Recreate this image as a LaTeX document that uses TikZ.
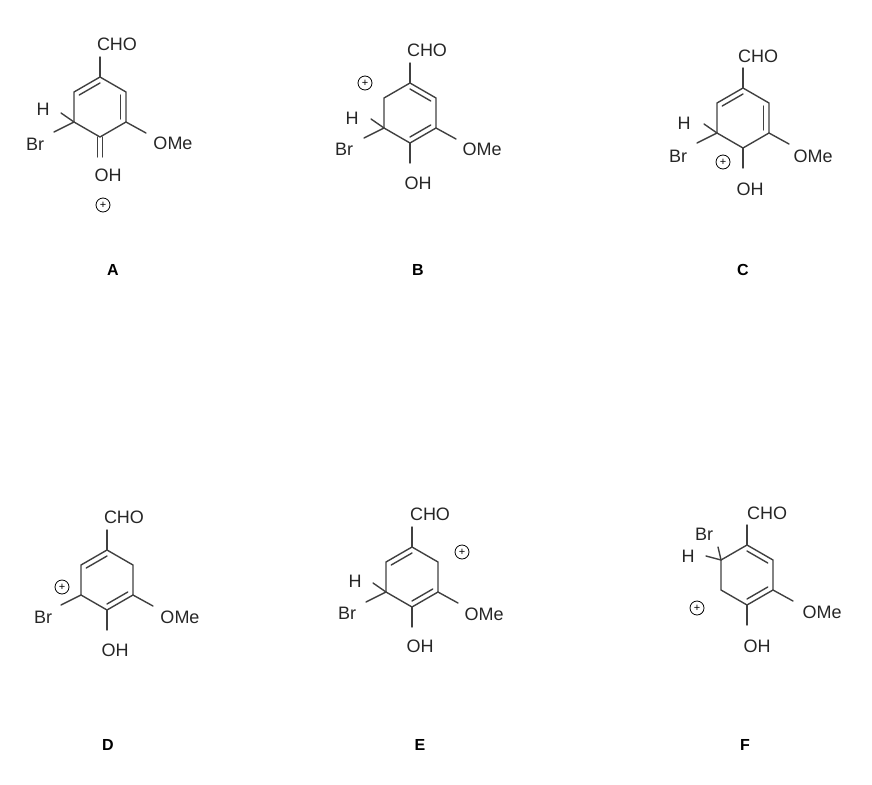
\documentclass[tikz,border=0pt]{standalone}
\usepackage{fontspec}
\setmainfont{Liberation Sans}
\usetikzlibrary{calc}
\newcommand\molring[3]{% name, cx, cy
  \coordinate (#1c) at (#2,#3);
  \foreach \i/\a in {1/-90,2/-30,3/30,4/90,5/150,6/210}{\coordinate (#1\i) at ($(#1c)+(\a:30)$);}
  \draw[bond] (#11)--(#12)--(#13)--(#14)--(#15)--(#16)--cycle;}
\newcommand\dbl[3]{\draw[bond] ($(#1c)!0.8!(#1#2)$)--($(#1c)!0.8!(#1#3)$);}
\tikzset{bond/.style={line width=1.4pt,line cap=round,line join=round,black!75},
  lab/.style={font=\fontsize{18}{18}\selectfont,inner sep=0pt,text=black!85},
  ttl/.style={font=\bfseries\fontsize{16}{16}\selectfont,inner sep=0pt},
  plus/.style={circle,draw,line width=0.8pt,minimum size=14pt,inner sep=0pt,font=\fontsize{11}{11}\selectfont}}
\begin{document}
\begin{tikzpicture}[x=1pt,y=-1pt]
\useasboundingbox (0,0) rectangle (872,784);
% A
\molring{A}{100}{107}
\dbl{A}{1}{6}\dbl{A}{2}{3}
\draw[bond] (A1)--++(0,-20); \node[lab] at (117,44) {CHO};
\draw[bond] ([xshift=-2.5pt]A4)--++(0,20) ([xshift=2.5pt]A4)--++(0,20); \node[lab] at (108,175) {OH};
\draw[bond] (A3)--++(20,11); \node[lab] at (173,143) {OMe};
\draw[bond] (A5)--++(-20,10); \node[lab] at (35,144) {Br};
\draw[bond] (A5)--++(-13,-9); \node[lab] at (43,109) {H};
\node[plus] at (103,205) {+};
\node[ttl] at (113,270) {A};
% B
\molring{B}{410}{113}
\dbl{B}{1}{2}\dbl{B}{3}{4}
\draw[bond] (B1)--++(0,-20); \node[lab] at (427,50) {CHO};
\draw[bond] (B4)--++(0,20); \node[lab] at (418,183) {OH};
\draw[bond] (B3)--++(20,11); \node[lab] at (482,149) {OMe};
\draw[bond] (B5)--++(-20,10); \node[lab] at (344,149) {Br};
\draw[bond] (B5)--++(-13,-9); \node[lab] at (352,118) {H};
\node[plus] at (365,83) {+};
\node[ttl] at (418,270) {B};
% C
\molring{C}{743}{118}
\dbl{C}{1}{6}\dbl{C}{2}{3}
\draw[bond] (C1)--++(0,-20); \node[lab] at (758,56) {CHO};
\draw[bond] (C4)--++(0,20); \node[lab] at (750,189) {OH};
\draw[bond] (C3)--++(20,11); \node[lab] at (813,156) {OMe};
\draw[bond] (C5)--++(-20,10); \node[lab] at (678,156) {Br};
\draw[bond] (C5)--++(-13,-9); \node[lab] at (684,123) {H};
\node[plus] at (723,162) {+};
\node[ttl] at (743,270) {C};
% D
\molring{D}{107}{580}
\dbl{D}{1}{6}\dbl{D}{3}{4}
\draw[bond] (D1)--++(0,-20); \node[lab] at (124,517) {CHO};
\draw[bond] (D4)--++(0,20); \node[lab] at (115,650) {OH};
\draw[bond] (D3)--++(20,11); \node[lab] at (180,617) {OMe};
\draw[bond] (D5)--++(-20,10); \node[lab] at (43,617) {Br};
\node[plus] at (62,587) {+};
\node[ttl] at (108,745) {D};
% E
\molring{E}{412}{577}
\dbl{E}{1}{6}\dbl{E}{3}{4}
\draw[bond] (E1)--++(0,-20); \node[lab] at (430,514) {CHO};
\draw[bond] (E4)--++(0,20); \node[lab] at (420,646) {OH};
\draw[bond] (E3)--++(20,11); \node[lab] at (484,614) {OMe};
\draw[bond] (E5)--++(-20,10); \node[lab] at (347,613) {Br};
\draw[bond] (E5)--++(-13,-9); \node[lab] at (355,581) {H};
\node[plus] at (462,552) {+};
\node[ttl] at (420,745) {E};
% F
\molring{F}{747}{575}
\dbl{F}{1}{2}\dbl{F}{3}{4}
\draw[bond] (F1)--++(0,-20); \node[lab] at (767,513) {CHO};
\draw[bond] (F4)--++(0,20); \node[lab] at (757,646) {OH};
\draw[bond] (F3)--++(20,11); \node[lab] at (822,612) {OMe};
\draw[bond] (F6)--++(-3,-13); \node[lab] at (704,534) {Br};
\draw[bond] (F6)--++(-15,-4); \node[lab] at (688,556) {H};
\node[plus] at (697,608) {+};
\node[ttl] at (745,745) {F};
\end{tikzpicture}
\end{document}
